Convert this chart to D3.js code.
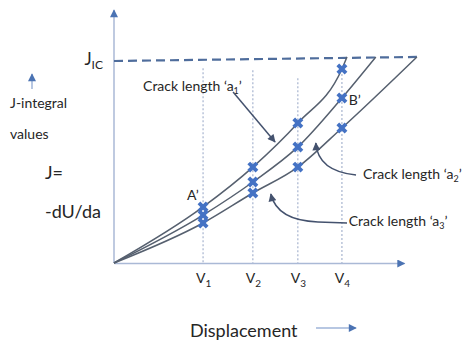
<!DOCTYPE html>
<html>
<head>
<meta charset="utf-8">
<script src="https://cdn.jsdelivr.net/npm/d3@7"></script>
<style>
  html, body { margin: 0; padding: 0; background: #fff; }
  svg { display: block; font-family: Lato, "Open Sans", sans-serif; }
</style>
</head>
<body>
<svg id="chart" width="474" height="361"></svg>
<script>
// ---------------- data (in displacement / J units) ----------------
const vLabels = ["1", "2", "3", "4"];
const vPositions = [0.297, 0.463, 0.613, 0.760];
const vTops = [0.955, 0.945, 0.905, 0.965];
const seriesNames = ["a1", "a2", "a3"];
const curveA1 = [[0, 0], [0.297, 0.275], [0.463, 0.470], [0.613, 0.686], [0.760, 0.951], [0.777, 1.010]];
const curveA2 = [[0, 0], [0.297, 0.235], [0.463, 0.397], [0.613, 0.569], [0.760, 0.809], [0.873, 1.010]];
const curveA3 = [[0, 0], [0.297, 0.196], [0.463, 0.343], [0.613, 0.470], [0.760, 0.662], [1.010, 1.010]];
const jicValue = 1.0;
const jicLine = [[0, 0.99], [1.01, 1.01]];
const xMax = 0.967, yMax = 1.24;

// ---------------- setup ----------------
const svg = d3.select("#chart");
const x = d3.scaleLinear().domain([0, xMax]).range([114, 404]);
const y = d3.scaleLinear().domain([0, yMax]).range([263, 10]);

const axisLineCol = "#aab9d6";
const arrowCol = "#4b73b3";
const curveCol = "#56606f";
const markerCol = "#4472c4";
const textCol = "#262626";

const defs = svg.append("defs");
function addMarker(id, color, w, h) {
  defs.append("marker").attr("id", id)
    .attr("viewBox", "0 0 10 10").attr("refX", 9).attr("refY", 5)
    .attr("markerWidth", w).attr("markerHeight", h)
    .attr("markerUnits", "userSpaceOnUse").attr("orient", "auto")
    .append("path").attr("d", "M0,0L10,5L0,10Z").attr("fill", color);
}
addMarker("axisArrow", arrowCol, 9, 8);
addMarker("annArrow", "#44526e", 9, 8);

// dotted V lines
svg.append("g").selectAll("line").data(vPositions).join("line")
  .attr("x1", d => x(d)).attr("x2", d => x(d))
  .attr("y1", (d, i) => y(vTops[i])).attr("y2", y(0))
  .attr("stroke", "#a7b4cf").attr("stroke-width", 1.2)
  .attr("stroke-dasharray", "2,2");

// axes
const xAxis = svg.append("g").attr("transform", `translate(0,${y(0)})`)
  .call(d3.axisBottom(x).tickValues(vPositions).tickSize(0).tickSizeOuter(0).tickPadding(10).tickFormat(""));
xAxis.select(".domain").attr("stroke", axisLineCol).attr("stroke-width", 1.5).attr("marker-end", "url(#axisArrow)");
xAxis.selectAll(".tick text").each(function(d, i) {
  const t = d3.select(this).attr("fill", textCol).attr("font-size", 14).attr("font-family", "Lato, sans-serif");
  t.text("V");
  t.append("tspan").attr("dy", 4).attr("font-size", 10).text(vLabels[i]);
});

const yAxis = svg.append("g").attr("transform", `translate(${x(0)},0)`)
  .call(d3.axisLeft(y).tickValues([jicValue]).tickSize(0).tickSizeOuter(0).tickPadding(11).tickFormat(""));
yAxis.select(".domain").attr("stroke", axisLineCol).attr("stroke-width", 1.5).attr("marker-end", "url(#axisArrow)");
yAxis.select(".domain").attr("d", `M0,${y(0)}V${y(yMax)}`);
yAxis.selectAll(".tick text").each(function() {
  const t = d3.select(this).attr("fill", textCol).attr("font-size", 17).attr("font-family", "Lato, sans-serif").attr("dy", "0.3em");
  t.text("J");
  t.append("tspan").attr("dy", 4).attr("font-size", 12).text("IC");
});

// JIC dashed line
svg.append("path").datum(jicLine)
  .attr("d", d3.line().x(d => x(d[0])).y(d => y(d[1])))
  .attr("fill", "none").attr("stroke", "#4f6d9c").attr("stroke-width", 2.2)
  .attr("stroke-dasharray", "9,5");

// curves
const curves = [curveA1, curveA2, curveA3];
const line = d3.line().x(d => x(d[0])).y(d => y(d[1])).curve(d3.curveMonotoneX);
svg.append("g").selectAll("path").data(curves).join("path")
  .attr("d", line).attr("fill", "none")
  .attr("stroke", curveCol).attr("stroke-width", 1.5);

// X markers at V positions
const sym = d3.symbol().type(d3.symbolCross).size(75);
const pts = [];
curves.forEach(c => c.forEach(p => { if (vPositions.includes(p[0])) pts.push(p); }));
svg.append("g").selectAll("path").data(pts).join("path")
  .attr("d", sym)
  .attr("transform", d => `translate(${x(d[0])},${y(d[1])}) rotate(45)`)
  .attr("fill", markerCol);

// annotations
const ann = svg.append("g").attr("fill", textCol).attr("font-size", 14);
function label(txt, sub, px, py, anchor) {
  const t = ann.append("text").attr("x", x(px)).attr("y", y(py)).attr("text-anchor", anchor || "start").text(txt);
  if (sub !== null) {
    t.append("tspan").attr("dy", 3).attr("font-size", 9).text(sub);
    t.append("tspan").attr("dy", -3).text("\u2019");
  }
  return t;
}
label("Crack length \u2018a", "1", 0.097, 0.843);
label("Crack length \u2018a", "2", 0.830, 0.412);
label("Crack length \u2018a", "3", 0.783, 0.181);
ann.append("text").attr("x", x(0.263)).attr("y", y(0.310)).attr("text-anchor", "middle").text("A\u2019");
ann.append("text").attr("x", x(0.803)).attr("y", y(0.775)).attr("text-anchor", "middle").text("B\u2019");

const annPaths = [
  d3.path(), d3.path(), d3.path()
];
annPaths[0].moveTo(x(0.397), y(0.838)); annPaths[0].lineTo(x(0.537), y(0.593));
annPaths[1].moveTo(x(0.807), y(0.431)); annPaths[1].quadraticCurveTo(x(0.680), y(0.450), x(0.673), y(0.588));
annPaths[2].moveTo(x(0.777), y(0.196)); annPaths[2].lineTo(x(0.680), y(0.201));
annPaths[2].bezierCurveTo(x(0.587), y(0.206), x(0.537), y(0.250), x(0.523), y(0.338));
svg.append("g").selectAll("path").data(annPaths).join("path")
  .attr("d", d => d.toString()).attr("fill", "none")
  .attr("stroke", "#44526e").attr("stroke-width", 1.5)
  .attr("marker-end", "url(#annArrow)");

// left side labels
const left = svg.append("g").attr("fill", textCol);
left.append("line").attr("x1", 32).attr("x2", 32).attr("y1", 89).attr("y2", 74)
  .attr("stroke", "#9fb4d8").attr("stroke-width", 1.5).attr("marker-end", "url(#axisArrow)");
left.append("text").attr("x", 10).attr("y", 108).attr("font-size", 14).text("J-integral");
left.append("text").attr("x", 10).attr("y", 139).attr("font-size", 14).text("values");
left.append("text").attr("x", 45).attr("y", 179).attr("font-size", 18).text("J=");
left.append("text").attr("x", 45).attr("y", 218).attr("font-size", 18).text("-dU/da");

// bottom label
svg.append("text").attr("x", 190).attr("y", 337).attr("font-size", 18).attr("fill", textCol).text("Displacement");
svg.append("line").attr("x1", 316).attr("x2", 356).attr("y1", 328).attr("y2", 328)
  .attr("stroke", "#9fb4d8").attr("stroke-width", 1.5).attr("marker-end", "url(#axisArrow)");
</script>
</body>
</html>
